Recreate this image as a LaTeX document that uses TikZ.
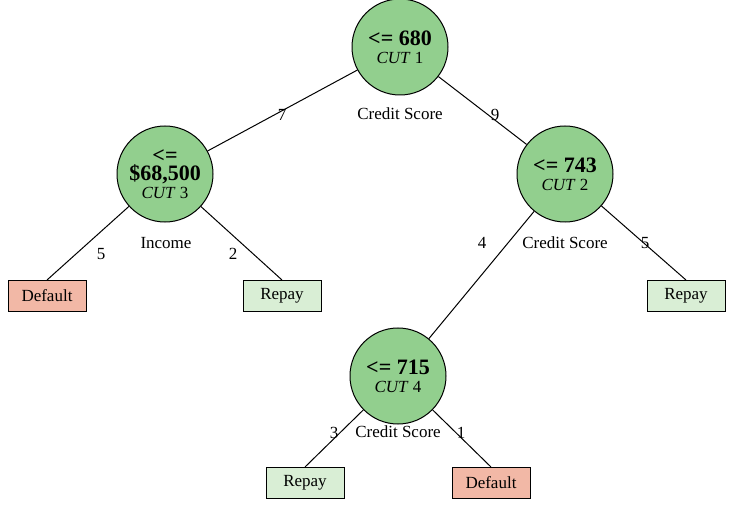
\documentclass[tikz,border=0pt]{standalone}
\usepackage{fontspec}
\setmainfont{Liberation Serif}
\newcommand{\bigb}{\fontsize{22}{22}\selectfont\bfseries}
\newcommand{\smalln}{\fontsize{17}{18}\selectfont\mdseries}
\begin{document}
\begin{tikzpicture}[x=1pt,y=-1pt,line width=1pt,
  cut/.style={circle,draw,fill=cutgreen,minimum size=96pt,inner sep=0pt,align=center,font=\fontsize{17}{18}\selectfont},
  leaf/.style={draw,minimum width=78pt,minimum height=31pt,font=\fontsize{17}{18}\selectfont},
  def/.style={leaf,fill=defred},
  rep/.style={leaf,fill=repgreen},
  lbl/.style={font=\fontsize{17}{18}\selectfont}]
\definecolor{cutgreen}{HTML}{92CF8E}
\definecolor{defred}{HTML}{F2B8A6}
\definecolor{repgreen}{HTML}{D9EED5}
\useasboundingbox (0,0) rectangle (740,508);
\node[cut] (c1) at (400,47) {\bigb <= 680\\\smalln\textit{CUT} 1};
\node[cut] (c3) at (165,174) {\bigb <=\\\bigb \$68,500\\\smalln\textit{CUT} 3};
\node[cut] (c2) at (565,174) {\bigb <= 743\\\smalln\textit{CUT} 2};
\node[cut] (c4) at (398,376) {\bigb <= 715\\\smalln\textit{CUT} 4};
\node[def] (d1) at (47,296) {Default};
\node[rep] (r1) at (282,296) {Repay};
\node[rep] (r2) at (686,296) {Repay};
\node[rep] (r3) at (305,483) {Repay};
\node[def] (d2) at (491,483) {Default};
\draw (c1) -- (c3); \draw (c1) -- (c2);
\draw (c3) -- (d1.north); \draw (c3) -- (r1.north);
\draw (c2) -- (c4); \draw (c2) -- (r2.north);
\draw (c4) -- (r3.north); \draw (c4) -- (d2.north);
\node[lbl] (t1) at (400,114) {Credit Score};
\node[lbl] (n7) at (282,115) {7};
\node[lbl] (n9) at (495,115) {9};
\node[lbl] (t3) at (166,243) {Income};
\node[lbl] (n5a) at (101,254) {5};
\node[lbl] (n2) at (233,254) {2};
\node[lbl] (t2) at (565,243) {Credit Score};
\node[lbl] (n4) at (482,243) {4};
\node[lbl] (n5b) at (645,243) {5};
\node[lbl] (t4) at (398,432) {Credit Score};
\node[lbl] (n3) at (334,433) {3};
\node[lbl] (n1) at (461,433) {1};
\end{tikzpicture}
\end{document}
